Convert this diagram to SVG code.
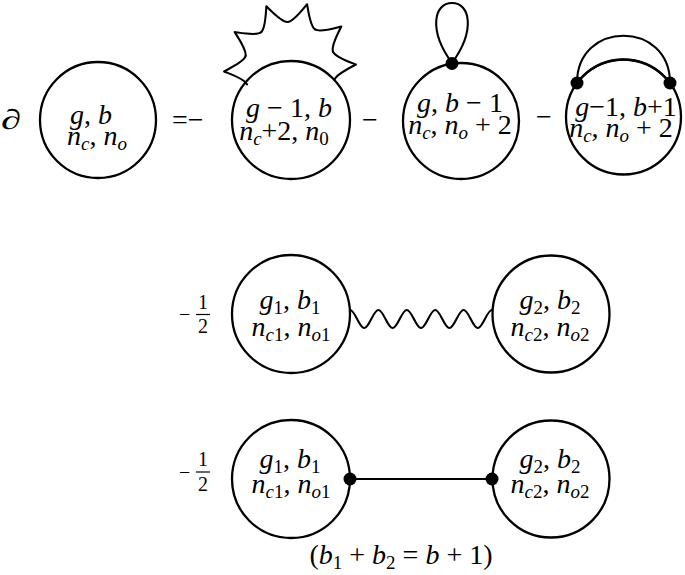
<svg xmlns="http://www.w3.org/2000/svg" xmlns:xlink="http://www.w3.org/1999/xlink" width="685" height="575" viewBox="0 0 685 575">
<style>
.c{fill:none;stroke:#000;stroke-width:2.3}
.l{fill:none;stroke:#000;stroke-width:2.1;stroke-linejoin:round;stroke-linecap:round}
.d{fill:#000}
.t{font-family:"Liberation Serif",serif;font-size:28px;fill:#000}
.i{font-style:italic}
.s{font-size:19px}
.f{font-family:"Liberation Serif",serif;font-size:20px;fill:#000}
</style>
<defs>
<path id="tooth" d="M -14.21 -43.75 C -8.5 -45.6 -2 -62 0 -66 C 2 -62 8.5 -45.6 14.21 -43.75"/>
</defs>
<rect width="685" height="575" fill="#fff"/>

<g id="symbols">
<text class="t i" font-size="31" transform="translate(1,129) scale(1.45,1)">∂</text>
<text class="t" x="172" y="129">=−</text>
<text class="t" x="362" y="129">−</text>
<text class="t" x="536" y="126">−</text>
</g>

<g id="node1">
<circle class="c" cx="98" cy="120" r="58"/>
<text class="t" x="91" y="124" text-anchor="middle"><tspan class="i">g</tspan>, <tspan class="i">b</tspan></text>
<text class="t" x="97" y="145" text-anchor="middle"><tspan class="i">n</tspan><tspan class="s i" dy="5">c</tspan><tspan dy="-5">, </tspan><tspan class="i">n</tspan><tspan class="s i" dy="5">o</tspan></text>
</g>

<g id="node2">
<circle class="c" cx="291" cy="120" r="59"/>
<text class="t" x="289" y="117" text-anchor="middle"><tspan class="i">g</tspan> − 1, <tspan class="i">b</tspan></text>
<text class="t" x="284" y="140" text-anchor="middle"><tspan class="i">n</tspan><tspan class="s i" dy="5">c</tspan><tspan dy="-5">+2, </tspan><tspan class="i">n</tspan><tspan class="s" dy="5">0</tspan></text>
</g>

<g id="node3">
<circle class="c" cx="461" cy="121" r="58"/>
<text class="t" x="460" y="112" text-anchor="middle"><tspan class="i">g</tspan>, <tspan class="i">b</tspan> − 1</text>
<text class="t" x="460" y="134" text-anchor="middle"><tspan class="i">n</tspan><tspan class="s i" dy="5">c</tspan><tspan dy="-5">, </tspan><tspan class="i">n</tspan><tspan class="s i" dy="5">o</tspan><tspan dy="-5"> + 2</tspan></text>
</g>

<g id="node4">
<circle class="c" cx="623.5" cy="117" r="57.5"/>
<text class="t" x="626" y="116" text-anchor="middle"><tspan class="i">g</tspan>−1, <tspan class="i">b</tspan>+1</text>
<text class="t" x="621" y="137" text-anchor="middle"><tspan class="i">n</tspan><tspan class="s i" dy="5">c</tspan><tspan dy="-5">, </tspan><tspan class="i">n</tspan><tspan class="s i" dy="5">o</tspan><tspan dy="-5"> + 2</tspan></text>
</g>

<g id="node5">
<circle class="c" cx="291" cy="314" r="59"/>
<text class="t" x="290" y="309" text-anchor="middle"><tspan class="i">g</tspan><tspan class="s" dy="5">1</tspan><tspan dy="-5">, </tspan><tspan class="i">b</tspan><tspan class="s" dy="5">1</tspan></text>
<text class="t" x="291" y="336" text-anchor="middle"><tspan class="i">n</tspan><tspan class="s" dy="5"><tspan class="i">c</tspan>1</tspan><tspan dy="-5">, </tspan><tspan class="i">n</tspan><tspan class="s" dy="5"><tspan class="i">o</tspan>1</tspan></text>
</g>

<g id="node6">
<circle class="c" cx="551" cy="314" r="58.5"/>
<text class="t" x="550" y="309" text-anchor="middle"><tspan class="i">g</tspan><tspan class="s" dy="5">2</tspan><tspan dy="-5">, </tspan><tspan class="i">b</tspan><tspan class="s" dy="5">2</tspan></text>
<text class="t" x="550" y="336" text-anchor="middle"><tspan class="i">n</tspan><tspan class="s" dy="5"><tspan class="i">c</tspan>2</tspan><tspan dy="-5">, </tspan><tspan class="i">n</tspan><tspan class="s" dy="5"><tspan class="i">o</tspan>2</tspan></text>
</g>

<g id="node7">
<circle class="c" cx="291" cy="479" r="59"/>
<text class="t" x="290" y="468" text-anchor="middle"><tspan class="i">g</tspan><tspan class="s" dy="5">1</tspan><tspan dy="-5">, </tspan><tspan class="i">b</tspan><tspan class="s" dy="5">1</tspan></text>
<text class="t" x="291" y="493" text-anchor="middle"><tspan class="i">n</tspan><tspan class="s" dy="5"><tspan class="i">c</tspan>1</tspan><tspan dy="-5">, </tspan><tspan class="i">n</tspan><tspan class="s" dy="5"><tspan class="i">o</tspan>1</tspan></text>
</g>

<g id="node8">
<circle class="c" cx="551" cy="479" r="58.5"/>
<text class="t" x="550" y="468" text-anchor="middle"><tspan class="i">g</tspan><tspan class="s" dy="5">2</tspan><tspan dy="-5">, </tspan><tspan class="i">b</tspan><tspan class="s" dy="5">2</tspan></text>
<text class="t" x="550" y="493" text-anchor="middle"><tspan class="i">n</tspan><tspan class="s" dy="5"><tspan class="i">c</tspan>2</tspan><tspan dy="-5">, </tspan><tspan class="i">n</tspan><tspan class="s" dy="5"><tspan class="i">o</tspan>2</tspan></text>
</g>

<g id="fractions">
<text class="f" x="179" y="321" font-size="24">−</text>
<text class="f" x="203" y="309" text-anchor="middle">1</text>
<line x1="196" y1="314.5" x2="210" y2="314.5" stroke="#000" stroke-width="1.2"/>
<text class="f" x="203" y="333" text-anchor="middle">2</text>
<text class="f" x="179" y="479" font-size="24">−</text>
<text class="f" x="203" y="466" text-anchor="middle">1</text>
<line x1="196" y1="472" x2="210" y2="472" stroke="#000" stroke-width="1.2"/>
<text class="f" x="203" y="491" text-anchor="middle">2</text>
</g>

<g id="connectors">
<g class="l" transform="translate(290,68)">
<use xlink:href="#tooth" href="#tooth" transform="rotate(-93)"/>
<use xlink:href="#tooth" href="#tooth" transform="rotate(-57)"/>
<use xlink:href="#tooth" href="#tooth" transform="rotate(-21)"/>
<use xlink:href="#tooth" href="#tooth" transform="rotate(15)"/>
<use xlink:href="#tooth" href="#tooth" transform="rotate(51)"/>
<use xlink:href="#tooth" href="#tooth" transform="rotate(87)"/>
</g>
<path class="l" d="M 452 63 C 428 30 434 3 452 3 C 470 3 476 30 452 63"/>
<path class="l" d="M 577 83 C 577 20 670 20 670 83"/>
<path class="l" d="M 577 83 A 58 58 0 0 1 670 83"/>
<path class="l" d="M 350 310 C 355.1 310 359.1 328 364.2 328 S 373.3 310 378.4 310 S 387.5 328 392.6 328 S 401.7 310 406.8 310 S 415.9 328 421 328 S 430.1 310 435.2 310 S 444.3 328 449.4 328 S 458.5 310 463.6 310 S 472.7 328 477.8 328 S 486.9 310 492 310"/>
<line class="l" x1="350" y1="479" x2="492" y2="479"/>
<circle class="d" cx="452" cy="63.5" r="6.5"/>
<circle class="d" cx="577" cy="83" r="6.5"/>
<circle class="d" cx="670" cy="83" r="6.5"/>
<circle class="d" cx="350" cy="479" r="6.5"/>
<circle class="d" cx="492" cy="479" r="6.5"/>
</g>

<text class="t" x="401" y="564" text-anchor="middle">(<tspan class="i">b</tspan><tspan class="s" dy="5">1</tspan><tspan dy="-5"> + </tspan><tspan class="i">b</tspan><tspan class="s" dy="5">2</tspan><tspan dy="-5"> = </tspan><tspan class="i">b</tspan> + 1)</text>
</svg>
